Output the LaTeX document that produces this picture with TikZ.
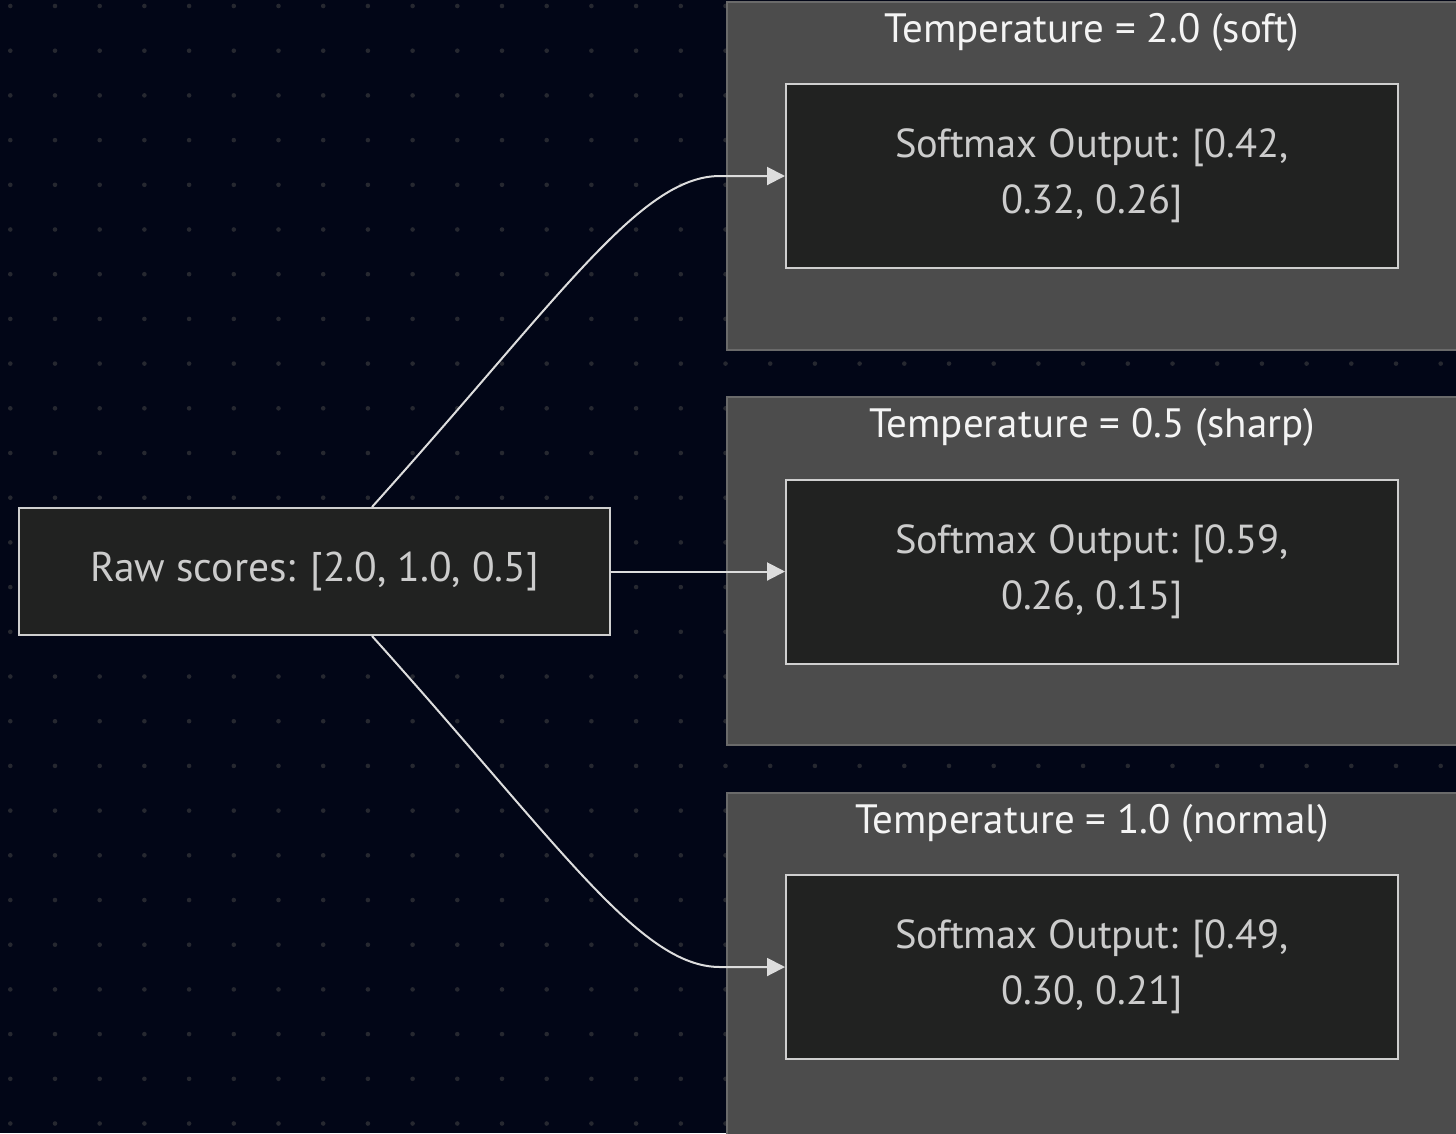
\documentclass[tikz,border=0pt]{standalone}
\usepackage{fontspec}
\setmainfont{PT Sans}
\usetikzlibrary{arrows.meta}

\definecolor{bgnavy}{HTML}{020617}
\definecolor{griddot}{HTML}{262830}
\definecolor{groupfill}{HTML}{4C4C4C}
\definecolor{groupline}{HTML}{6A6A6A}
\definecolor{nodefill}{HTML}{212221}
\definecolor{nodeline}{HTML}{CFCFCF}
\definecolor{nodetext}{HTML}{CCCCCC}
\definecolor{titletext}{HTML}{F4F4F4}
\definecolor{flowline}{HTML}{DDDDDD}

\begin{document}
\begin{tikzpicture}[x=1pt,y=-1pt]
	\tikzstyle{groupbox}=[draw=groupline, line width=1.5pt, fill=groupfill, inner sep=0pt, minimum width=730pt, minimum height=348pt];
	\tikzstyle{scorebox}=[draw=nodeline, line width=2pt, fill=nodefill, text=nodetext, inner sep=0pt, align=center, font=\fontsize{40.5}{56}\selectfont];
	\tikzstyle{grouptitle}=[text=titletext, inner sep=0pt, font=\fontsize{41}{48}\selectfont];
	\tikzstyle{flow}=[draw=flowline, line width=2pt, -{Triangle[length=18pt,width=18pt]}];
	\useasboundingbox (0,0) rectangle (1456,1133);
	\fill[bgnavy] (0,0) rectangle (1456,1133);
	% dotted grid
	\foreach \i in {0,...,32}
		\foreach \j in {0,...,25}
			\fill[griddot] (10.3+44.7*\i,6+44.7*\j) circle (2.3pt);
	% temperature groups
	\path (1092,176) node[groupbox] (g1) {};
	\path (1092,571) node[groupbox] (g2) {};
	\path (1092,967) node[groupbox] (g3) {};
	\path (1092,32) node[grouptitle] (t1) {Temperature = 2.0 (soft)};
	\path (1092,427) node[grouptitle] (t2) {Temperature = 0.5 (sharp)};
	\path (1092,823) node[grouptitle] (t3) {Temperature = 1.0 (normal)};
	% nodes
	\path (314.5,571.5) node[scorebox, minimum width=591pt, minimum height=127pt, font=\fontsize{41.5}{56}\selectfont] (raw) {Raw scores: [2.0, 1.0, 0.5]};
	\path (1092,176) node[scorebox, minimum width=612pt, minimum height=184pt] (soft) {Softmax Output: [0.42,\\0.32, 0.26]};
	\path (1092,571.5) node[scorebox, minimum width=612pt, minimum height=184pt] (sharp) {Softmax Output: [0.59,\\0.26, 0.15]};
	\path (1092,967) node[scorebox, minimum width=612pt, minimum height=184pt] (normal) {Softmax Output: [0.49,\\0.30, 0.21]};
	% edges
	\coordinate (b1) at (720,176);
	\coordinate (b3) at (720,967);
	\draw[flow] ([xshift=57.5pt]raw.north) .. controls (560,298) and (640,176) .. (b1) -- (soft.west);
	\draw[flow] (raw.east) -- (sharp.west);
	\draw[flow] ([xshift=57.5pt]raw.south) .. controls (560,845) and (640,967) .. (b3) -- (normal.west);
\end{tikzpicture}
\end{document}
